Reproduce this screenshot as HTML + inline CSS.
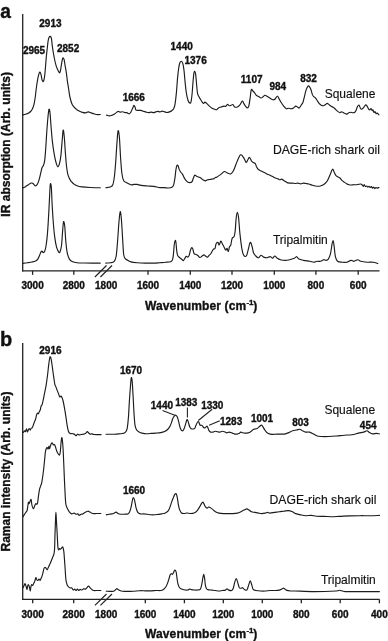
<!DOCTYPE html>
<html><head><meta charset="utf-8"><title>IR and Raman spectra</title>
<style>
html,body{margin:0;padding:0;background:#fff;}
body{width:388px;height:641px;overflow:hidden;}
svg{display:block;}
text{font-family:"Liberation Sans",Arial,sans-serif;fill:#111;}
.pk,.tk,.xl,.yl,.pl{stroke:#111;stroke-width:0.35;}
.nm{stroke:#111;stroke-width:0.15;}
.pl{font-size:20px;font-weight:bold;}
.tk{font-size:10px;font-weight:bold;text-anchor:middle;}
.pk{font-size:10px;font-weight:bold;text-anchor:middle;}
.nm{font-size:12px;}
.xl{font-size:12px;font-weight:bold;}
.yl{font-size:12px;font-weight:bold;text-anchor:middle;}
.ax{stroke:#222;stroke-width:1.3;fill:none;}
.brk{stroke:#222;stroke-width:1.2;}
.ld{stroke:#222;stroke-width:1.1;}
.cv{stroke:#1c1c1c;stroke-width:1.15;fill:none;stroke-linejoin:round;stroke-linecap:round;}
</style></head><body>
<svg width="388" height="641" viewBox="0 0 388 641">
<rect width="388" height="641" fill="#fff"/>
<text x="0.2" y="17.5" class="pl" style="font-size:20.6px" textLength="10.7" lengthAdjust="spacingAndGlyphs">a</text>
<text x="0" y="346.0" class="pl">b</text>
<line x1="22.7" y1="13.9" x2="22.7" y2="271.45" class="ax"/>
<line x1="22.1" y1="270.85" x2="379.5" y2="270.85" class="ax"/>
<line x1="32.6" y1="270.85" x2="32.6" y2="274.85" class="ax"/>
<line x1="73.8" y1="270.85" x2="73.8" y2="274.85" class="ax"/>
<line x1="148" y1="270.85" x2="148" y2="274.85" class="ax"/>
<line x1="190.3" y1="270.85" x2="190.3" y2="274.85" class="ax"/>
<line x1="232.0" y1="270.85" x2="232.0" y2="274.85" class="ax"/>
<line x1="274.3" y1="270.85" x2="274.3" y2="274.85" class="ax"/>
<line x1="315.9" y1="270.85" x2="315.9" y2="274.85" class="ax"/>
<line x1="358.2" y1="270.85" x2="358.2" y2="274.85" class="ax"/>
<text x="32.6" y="289.45" class="tk">3000</text>
<text x="73.8" y="289.45" class="tk">2800</text>
<text x="148" y="289.45" class="tk">1600</text>
<text x="190.3" y="289.45" class="tk">1400</text>
<text x="232.0" y="289.45" class="tk">1200</text>
<text x="274.3" y="289.45" class="tk">1000</text>
<text x="315.9" y="289.45" class="tk">800</text>
<text x="358.2" y="289.45" class="tk">600</text>
<text x="106.2" y="289.45" class="tk">1800</text>
<line x1="94.9" y1="276.95" x2="106.5" y2="265.55" class="brk"/>
<line x1="100.4" y1="276.95" x2="112.0" y2="265.55" class="brk"/>
<text x="145.0" y="309.85" class="xl"><tspan textLength="101.2" lengthAdjust="spacing">Wavenumber (cm</tspan><tspan x="246.4" dy="-4.9" font-size="8">-1</tspan><tspan x="253.3" dy="4.9">)</tspan></text>
<line x1="22.7" y1="343.1" x2="22.7" y2="599.9" class="ax"/>
<line x1="22.1" y1="599.3" x2="379.4" y2="599.3" class="ax"/>
<line x1="32.7" y1="599.3" x2="32.7" y2="603.3" class="ax"/>
<line x1="73.7" y1="599.3" x2="73.7" y2="603.3" class="ax"/>
<line x1="145.3" y1="599.3" x2="145.3" y2="603.3" class="ax"/>
<line x1="184.4" y1="599.3" x2="184.4" y2="603.3" class="ax"/>
<line x1="223.3" y1="599.3" x2="223.3" y2="603.3" class="ax"/>
<line x1="262.3" y1="599.3" x2="262.3" y2="603.3" class="ax"/>
<line x1="301.3" y1="599.3" x2="301.3" y2="603.3" class="ax"/>
<line x1="340.2" y1="599.3" x2="340.2" y2="603.3" class="ax"/>
<line x1="379.4" y1="599.3" x2="379.4" y2="603.3" class="ax"/>
<text x="32.7" y="617.9" class="tk">3000</text>
<text x="73.7" y="617.9" class="tk">2800</text>
<text x="145.3" y="617.9" class="tk">1600</text>
<text x="184.4" y="617.9" class="tk">1400</text>
<text x="223.3" y="617.9" class="tk">1200</text>
<text x="262.3" y="617.9" class="tk">1000</text>
<text x="301.3" y="617.9" class="tk">800</text>
<text x="340.2" y="617.9" class="tk">600</text>
<text x="379.4" y="617.9" class="tk">400</text>
<text x="106.2" y="617.9" class="tk">1800</text>
<line x1="94.9" y1="605.4" x2="106.5" y2="594.0" class="brk"/>
<line x1="100.4" y1="605.4" x2="112.0" y2="594.0" class="brk"/>
<text x="145.0" y="638.3" class="xl"><tspan textLength="101.2" lengthAdjust="spacing">Wavenumber (cm</tspan><tspan x="246.4" dy="-4.9" font-size="8">-1</tspan><tspan x="253.3" dy="4.9">)</tspan></text>
<text transform="translate(10.1 144.3) rotate(-90)" class="yl">IR absorption (Arb. units)</text>
<text transform="translate(10.1 471.5) rotate(-90)" class="yl">Raman intensity (Arb. units)</text>
<text x="50.4" y="27.4" class="pk">2913</text>
<text x="34" y="53.9" class="pk">2965</text>
<text x="68.1" y="51.5" class="pk">2852</text>
<text x="133.75" y="100.5" class="pk">1666</text>
<text x="181.7" y="50.4" class="pk">1440</text>
<text x="195.6" y="64.2" class="pk">1376</text>
<text x="251.7" y="82.7" class="pk">1107</text>
<text x="277.75" y="90.3" class="pk">984</text>
<text x="308.5" y="81.7" class="pk">832</text>
<text x="50.4" y="354.0" class="pk">2916</text>
<text x="131" y="373.7" class="pk">1670</text>
<text x="161.9" y="409.3" class="pk">1440</text>
<text x="186.25" y="406.2" class="pk">1383</text>
<text x="212.3" y="408.6" class="pk">1330</text>
<text x="231.1" y="425.2" class="pk">1283</text>
<text x="262.0" y="422.3" class="pk">1001</text>
<text x="300.5" y="425.5" class="pk">803</text>
<text x="368.2" y="429.2" class="pk">454</text>
<text x="134" y="493.5" class="pk">1660</text>
<text x="324.7" y="97.7" class="nm" style="font-size:12px">Squalene</text>
<text x="272.9" y="154.1" class="nm" style="font-size:12.2px">DAGE-rich shark oil</text>
<text x="272.9" y="243.5" class="nm" style="font-size:12px">Tripalmitin</text>
<text x="324.4" y="413.6" class="nm" style="font-size:12px">Squalene</text>
<text x="269.5" y="503.8" class="nm" style="font-size:12.2px">DAGE-rich shark oil</text>
<text x="320.9" y="584.0" class="nm" style="font-size:12px">Tripalmitin</text>
<line x1="162.5" y1="410.6" x2="174.8" y2="415.3" class="ld"/>
<line x1="187.4" y1="407.6" x2="187.4" y2="417.4" class="ld"/>
<line x1="212.2" y1="409.2" x2="198.3" y2="420.5" class="ld"/>
<line x1="219.8" y1="420.7" x2="209.1" y2="425.3" class="ld"/>
<path d="M22.6 115 C23.08 114.87 24.55 114.5 25.5 114.2 C26.45 113.9 27.45 113.65 28.3 113.2 C29.15 112.75 29.88 112.3 30.6 111.5 C31.32 110.7 32.03 109.6 32.6 108.4 C33.17 107.2 33.57 106.12 34 104.3 C34.43 102.48 34.83 100.05 35.2 97.5 C35.57 94.95 35.77 92.13 36.2 89 C36.63 85.87 37.3 81.35 37.8 78.7 C38.3 76.05 38.82 74.2 39.2 73.1 C39.58 72 39.78 71.8 40.1 72.1 C40.42 72.4 40.78 73.65 41.1 74.9 C41.42 76.15 41.65 78.5 42 79.6 C42.35 80.7 42.8 81.8 43.2 81.5 C43.6 81.2 44.05 79.83 44.4 77.8 C44.75 75.77 45 72.58 45.3 69.3 C45.6 66.02 45.88 61.53 46.2 58.1 C46.52 54.67 46.88 51.52 47.2 48.7 C47.52 45.88 47.8 43.07 48.1 41.2 C48.4 39.33 48.63 38.3 49 37.5 C49.37 36.7 49.9 36.25 50.3 36.4 C50.7 36.55 51.07 36.82 51.4 38.4 C51.73 39.98 51.98 43.55 52.3 45.9 C52.62 48.25 52.9 50.15 53.3 52.5 C53.7 54.85 54.23 57.82 54.7 60 C55.17 62.18 55.63 64.05 56.1 65.6 C56.57 67.15 57.03 68.22 57.5 69.3 C57.97 70.38 58.52 71.55 58.9 72.1 C59.28 72.65 59.5 73.07 59.8 72.6 C60.1 72.13 60.38 70.93 60.7 69.3 C61.02 67.67 61.38 64.58 61.7 62.8 C62.02 61.02 62.33 59.42 62.6 58.6 C62.87 57.78 63.03 57.67 63.3 57.9 C63.57 58.13 63.9 58.72 64.2 60 C64.5 61.28 64.73 63.42 65.1 65.6 C65.47 67.78 66.03 70.6 66.4 73.1 C66.77 75.6 66.95 78.12 67.3 80.6 C67.65 83.08 68.07 85.27 68.5 88 C68.93 90.73 69.28 94.25 69.9 97 C70.52 99.75 71.2 102.52 72.2 104.5 C73.2 106.48 74.75 107.8 75.9 108.9 C77.05 110 78.02 110.52 79.1 111.1 C80.18 111.68 81.3 112.1 82.4 112.4 C83.5 112.7 84.72 113 85.7 112.9 C86.68 112.8 87.38 111.8 88.3 111.8 C89.22 111.8 90.17 112.53 91.2 112.9 C92.23 113.27 93.4 113.72 94.5 114 C95.6 114.28 96.83 114.52 97.8 114.6 C98.77 114.68 99.88 114.52 100.3 114.5" class="cv"/>
<path d="M106.4 115.1 C106.87 115.23 108.32 115.85 109.2 115.9 C110.08 115.95 110.87 115.67 111.7 115.4 C112.53 115.13 113.35 114.85 114.2 114.3 C115.05 113.75 116.1 112.58 116.8 112.1 C117.5 111.62 117.85 111.4 118.4 111.4 C118.95 111.4 119.4 112.03 120.1 112.1 C120.8 112.17 121.77 111.72 122.6 111.8 C123.43 111.88 124.4 112.47 125.1 112.6 C125.8 112.73 126.1 112.4 126.8 112.6 C127.5 112.8 128.6 113.93 129.3 113.8 C130 113.67 130.43 112.75 131 111.8 C131.57 110.85 132.2 109.17 132.7 108.1 C133.2 107.03 133.58 105.48 134 105.4 C134.42 105.32 134.87 106.82 135.2 107.6 C135.53 108.38 135.45 109.63 136 110.1 C136.55 110.57 137.67 110.35 138.5 110.4 C139.33 110.45 140.15 110.23 141 110.4 C141.85 110.57 142.75 111.12 143.6 111.4 C144.45 111.68 145.27 111.9 146.1 112.1 C146.93 112.3 147.77 112.6 148.6 112.6 C149.43 112.6 150.27 112.1 151.1 112.1 C151.93 112.1 152.77 112.65 153.6 112.6 C154.43 112.55 155.4 112 156.1 111.8 C156.8 111.6 157.1 111.4 157.8 111.4 C158.5 111.4 159.55 111.85 160.3 111.8 C161.05 111.75 161.57 111.08 162.3 111.1 C163.03 111.12 163.92 111.67 164.7 111.9 C165.48 112.13 166.22 112.5 167 112.5 C167.78 112.5 168.62 112.2 169.4 111.9 C170.18 111.6 170.97 111.28 171.7 110.7 C172.43 110.12 173.25 109.47 173.8 108.4 C174.35 107.33 174.57 106.93 175 104.3 C175.43 101.67 175.98 96.88 176.4 92.6 C176.82 88.32 177.12 82.7 177.5 78.6 C177.88 74.5 178.3 70.63 178.7 68 C179.1 65.37 179.47 63.92 179.9 62.8 C180.33 61.68 180.82 61.2 181.3 61.3 C181.78 61.4 182.35 61.88 182.8 63.4 C183.25 64.92 183.62 67.28 184 70.4 C184.38 73.52 184.72 78.4 185.1 82.1 C185.48 85.8 185.82 89.58 186.3 92.6 C186.78 95.62 187.42 98.45 188 100.2 C188.58 101.95 189.3 102.82 189.8 103.1 C190.3 103.38 190.62 103.45 191 101.9 C191.38 100.35 191.75 97.3 192.1 93.8 C192.45 90.3 192.8 84.32 193.1 80.9 C193.4 77.48 193.63 74.9 193.9 73.3 C194.17 71.7 194.42 71.2 194.7 71.3 C194.98 71.4 195.3 71.92 195.6 73.9 C195.9 75.88 196.2 80.08 196.5 83.2 C196.8 86.32 197.05 90.45 197.4 92.6 C197.75 94.75 198.1 95 198.6 96.1 C199.1 97.2 199.8 98.2 200.4 99.2 C201 100.2 201.65 101.4 202.2 102.1 C202.75 102.8 203.25 103.4 203.7 103.4 C204.15 103.4 204.4 102.1 204.9 102.1 C205.4 102.1 205.95 102.73 206.7 103.4 C207.45 104.07 208.5 105.3 209.4 106.1 C210.3 106.9 211.2 107.67 212.1 108.2 C213 108.73 214.05 109.05 214.8 109.3 C215.55 109.55 215.98 109.93 216.6 109.7 C217.22 109.47 217.73 108.35 218.5 107.9 C219.27 107.45 220.3 107.3 221.2 107 C222.1 106.7 223.15 106.2 223.9 106.1 C224.65 106 225.1 106.7 225.7 106.4 C226.3 106.1 226.9 104.42 227.5 104.3 C228.1 104.18 228.7 105.55 229.3 105.7 C229.9 105.85 230.5 105.38 231.1 105.2 C231.7 105.02 232.3 104.3 232.9 104.6 C233.5 104.9 233.95 106.6 234.7 107 C235.45 107.4 236.57 107.3 237.4 107 C238.23 106.7 238.88 106.2 239.7 105.2 C240.52 104.2 241.63 101.3 242.3 101 C242.97 100.7 243.17 102.55 243.7 103.4 C244.23 104.25 244.9 105.35 245.5 106.1 C246.1 106.85 246.75 107.9 247.3 107.9 C247.85 107.9 248.35 107.6 248.8 106.1 C249.25 104.6 249.58 101.62 250 98.9 C250.42 96.18 250.85 91.17 251.3 89.8 C251.75 88.43 252.17 90.23 252.7 90.7 C253.23 91.17 253.9 91.83 254.5 92.6 C255.1 93.37 255.55 94.62 256.3 95.3 C257.05 95.98 258.25 96.25 259 96.7 C259.75 97.15 260.18 97.93 260.8 98 C261.42 98.07 262 97.55 262.7 97.1 C263.4 96.65 264.17 95.37 265 95.3 C265.83 95.23 266.8 96.17 267.7 96.7 C268.6 97.23 269.5 97.98 270.4 98.5 C271.3 99.02 272.35 99.68 273.1 99.8 C273.85 99.92 274.2 99.8 274.9 99.2 C275.6 98.6 276.6 96.25 277.3 96.2 C278 96.15 278.45 97.85 279.1 98.9 C279.75 99.95 280.4 101.25 281.2 102.5 C282 103.75 283.05 105.35 283.9 106.4 C284.75 107.45 285.53 108.5 286.3 108.8 C287.07 109.1 287.68 108.2 288.5 108.2 C289.32 108.2 290.37 108.85 291.2 108.8 C292.03 108.75 292.75 108.35 293.5 107.9 C294.25 107.45 295.03 106.25 295.7 106.1 C296.37 105.95 296.9 106.7 297.5 107 C298.1 107.3 298.7 108.2 299.3 107.9 C299.9 107.6 300.5 106.1 301.1 105.2 C301.7 104.3 302.37 103.85 302.9 102.5 C303.43 101.15 303.85 98.92 304.3 97.1 C304.75 95.28 305.17 93.12 305.6 91.6 C306.03 90.08 306.45 88.95 306.9 88 C307.35 87.05 307.83 86.05 308.3 85.9 C308.77 85.75 309.25 86.45 309.7 87.1 C310.15 87.75 310.57 88.58 311 89.8 C311.43 91.02 311.85 93.25 312.3 94.4 C312.75 95.55 313.17 96.1 313.7 96.7 C314.23 97.3 314.9 97.33 315.5 98 C316.1 98.67 316.7 99.8 317.3 100.7 C317.9 101.6 318.43 102.65 319.1 103.4 C319.77 104.15 320.55 104.82 321.3 105.2 C322.05 105.58 322.92 105.8 323.6 105.7 C324.28 105.6 324.8 104.98 325.4 104.6 C326 104.22 326.6 103.4 327.2 103.4 C327.8 103.4 328.4 104.15 329 104.6 C329.6 105.05 330.18 105.7 330.8 106.1 C331.42 106.5 332.08 106.65 332.7 107 C333.32 107.35 333.77 107.55 334.5 108.2 C335.23 108.85 336.2 110.15 337.1 110.9 C338 111.65 339.2 112.57 339.9 112.7 C340.6 112.83 340.7 111.7 341.3 111.7 C341.9 111.7 342.78 112.37 343.5 112.7 C344.22 113.03 345.02 113.47 345.6 113.7 C346.18 113.93 346.53 114.2 347 114.1 C347.47 114 347.8 113.4 348.4 113.1 C349 112.8 349.88 112.37 350.6 112.3 C351.32 112.23 352 112.7 352.7 112.7 C353.4 112.7 354.22 112.77 354.8 112.3 C355.38 111.83 355.73 110.9 356.2 109.9 C356.67 108.9 357.12 107.08 357.6 106.3 C358.08 105.52 358.62 104.83 359.1 105.2 C359.58 105.57 360.03 107.83 360.5 108.5 C360.97 109.17 361.43 109.28 361.9 109.2 C362.37 109.12 362.9 108.43 363.3 108 C363.7 107.57 363.9 107.12 364.3 106.6 C364.7 106.08 365.23 104.98 365.7 104.9 C366.17 104.82 366.67 105.5 367.1 106.1 C367.53 106.7 367.87 107.87 368.3 108.5 C368.73 109.13 369.23 109.9 369.7 109.9 C370.17 109.9 370.7 108.38 371.1 108.5 C371.5 108.62 371.78 110.37 372.1 110.6 C372.42 110.83 372.7 109.62 373 109.9 C373.3 110.18 373.55 112 373.9 112.3 C374.25 112.6 374.73 111.47 375.1 111.7 C375.47 111.93 375.75 113.47 376.1 113.7 C376.45 113.93 376.73 112.92 377.2 113.1 C377.67 113.28 378.62 114.52 378.9 114.8" class="cv"/>
<path d="M22.6 188 C22.92 187.87 23.88 187.52 24.5 187.2 C25.12 186.88 25.63 186.52 26.3 186.1 C26.97 185.68 27.78 185.17 28.5 184.7 C29.22 184.23 30.02 183.58 30.6 183.3 C31.18 183.02 31.52 182.88 32 183 C32.48 183.12 32.97 183.53 33.5 184 C34.03 184.47 34.6 185.68 35.2 185.8 C35.8 185.92 36.48 185.6 37.1 184.7 C37.72 183.8 38.3 182.32 38.9 180.4 C39.5 178.48 40.17 175.35 40.7 173.2 C41.23 171.05 41.63 168.82 42.1 167.5 C42.57 166.18 43.07 166.5 43.5 165.3 C43.93 164.1 44.33 163.05 44.7 160.3 C45.07 157.55 45.37 153.35 45.7 148.8 C46.03 144.25 46.35 138.02 46.7 133 C47.05 127.98 47.42 122.65 47.8 118.7 C48.18 114.75 48.63 110.27 49 109.3 C49.37 108.33 49.67 110.15 50 112.9 C50.33 115.65 50.6 121.02 51 125.8 C51.4 130.58 51.85 136.8 52.4 141.6 C52.95 146.4 53.67 151 54.3 154.6 C54.93 158.2 55.6 161.17 56.2 163.2 C56.8 165.23 57.33 166.8 57.9 166.8 C58.47 166.8 59.08 165.23 59.6 163.2 C60.12 161.17 60.57 158.43 61 154.6 C61.43 150.77 61.83 144.28 62.2 140.2 C62.57 136.12 62.85 130.58 63.2 130.1 C63.55 129.62 63.93 133.47 64.3 137.3 C64.67 141.13 65.03 148.32 65.4 153.1 C65.77 157.88 66.08 162.42 66.5 166 C66.92 169.58 67.3 172.32 67.9 174.6 C68.5 176.88 69.38 178.38 70.1 179.7 C70.82 181.02 71.48 181.72 72.2 182.5 C72.92 183.28 73.6 183.85 74.4 184.4 C75.2 184.95 75.73 185.38 77 185.8 C78.27 186.22 79.83 186.62 82 186.9 C84.17 187.18 86.95 187.35 90 187.5 C93.05 187.65 98.58 187.75 100.3 187.8" class="cv"/>
<path d="M105.8 187.7 C106.55 187.58 109.13 187.48 110.3 187 C111.47 186.52 112.12 186.55 112.8 184.8 C113.48 183.05 113.92 180.28 114.4 176.5 C114.88 172.72 115.28 167.58 115.7 162.1 C116.12 156.62 116.5 148.82 116.9 143.6 C117.3 138.38 117.68 131.83 118.1 130.8 C118.52 129.77 118.98 132.87 119.4 137.4 C119.82 141.93 120.18 151.98 120.6 158 C121.02 164.02 121.38 169.72 121.9 173.5 C122.42 177.28 122.88 179.17 123.7 180.7 C124.52 182.23 125.6 182.02 126.8 182.7 C128 183.38 129.7 184.52 130.9 184.8 C132.1 185.08 132.97 184.47 134 184.4 C135.03 184.33 135.9 184.23 137.1 184.4 C138.3 184.57 139.48 185.13 141.2 185.4 C142.92 185.67 145.33 185.83 147.4 186 C149.47 186.17 151.5 186.13 153.6 186.4 C155.7 186.67 158.22 187.4 160 187.6 C161.78 187.8 162.88 187.53 164.3 187.6 C165.72 187.67 167.33 188 168.5 188 C169.67 188 170.47 188.03 171.3 187.6 C172.13 187.17 172.9 186.95 173.5 185.4 C174.1 183.85 174.5 180.9 174.9 178.3 C175.3 175.7 175.55 171.97 175.9 169.8 C176.25 167.63 176.63 165.95 177 165.3 C177.37 164.65 177.75 165.27 178.1 165.9 C178.45 166.53 178.68 168.08 179.1 169.1 C179.52 170.12 180.05 171.17 180.6 172 C181.15 172.83 181.82 173.17 182.4 174.1 C182.98 175.03 183.58 176.65 184.1 177.6 C184.62 178.55 184.92 179.08 185.5 179.8 C186.08 180.52 186.88 181.43 187.6 181.9 C188.32 182.37 189.08 182.6 189.8 182.6 C190.52 182.6 191.32 182.62 191.9 181.9 C192.48 181.18 192.83 179.42 193.3 178.3 C193.77 177.18 194.15 175.55 194.7 175.2 C195.25 174.85 195.88 175.87 196.6 176.2 C197.32 176.53 198.25 176.85 199 177.2 C199.75 177.55 200.4 177.83 201.1 178.3 C201.8 178.77 202.48 179.57 203.2 180 C203.92 180.43 204.68 180.93 205.4 180.9 C206.12 180.87 206.8 180.03 207.5 179.8 C208.2 179.57 208.9 179.62 209.6 179.5 C210.3 179.38 210.98 179.25 211.7 179.1 C212.42 178.95 213.27 178.88 213.9 178.6 C214.53 178.32 215.03 177.63 215.5 177.4 C215.97 177.17 215.87 177.67 216.7 177.2 C217.53 176.73 219.22 175.55 220.5 174.6 C221.78 173.65 223.32 171.8 224.4 171.5 C225.48 171.2 225.93 172.4 227 172.8 C228.07 173.2 229.73 174.23 230.8 173.9 C231.87 173.57 232.53 172.4 233.4 170.8 C234.27 169.2 235.13 166.45 236 164.3 C236.87 162.15 237.83 159.48 238.6 157.9 C239.37 156.32 239.97 155.15 240.6 154.8 C241.23 154.45 241.75 155.07 242.4 155.8 C243.05 156.53 243.85 158.08 244.5 159.2 C245.15 160.32 245.7 162.5 246.3 162.5 C246.9 162.5 247.55 160.05 248.1 159.2 C248.65 158.35 249.03 157.1 249.6 157.4 C250.17 157.7 250.88 160.15 251.5 161 C252.12 161.85 252.67 162.07 253.3 162.5 C253.93 162.93 254.75 162.87 255.3 163.6 C255.85 164.33 256.08 165.92 256.6 166.9 C257.12 167.88 257.53 168.77 258.4 169.5 C259.27 170.23 260.38 170.57 261.8 171.3 C263.22 172.03 265.53 173.23 266.9 173.9 C268.27 174.57 269.03 174.85 270 175.3 C270.97 175.75 271.8 176.15 272.7 176.6 C273.6 177.05 274.5 177.62 275.4 178 C276.3 178.38 277.35 178.6 278.1 178.9 C278.85 179.2 279.3 179.77 279.9 179.8 C280.5 179.83 281 178.95 281.7 179.1 C282.4 179.25 283.2 180.12 284.1 180.7 C285 181.28 286.15 182.2 287.1 182.6 C288.05 183 288.88 183.02 289.8 183.1 C290.72 183.18 291.68 183.03 292.6 183.1 C293.52 183.17 294.4 183.5 295.3 183.5 C296.2 183.5 297.1 183.05 298 183.1 C298.9 183.15 299.8 183.8 300.7 183.8 C301.6 183.8 302.5 183.15 303.4 183.1 C304.3 183.05 305.2 183.35 306.1 183.5 C307 183.65 307.9 183.77 308.8 184 C309.7 184.23 310.6 184.6 311.5 184.9 C312.4 185.2 313.3 185.58 314.2 185.8 C315.1 186.02 316 186.13 316.9 186.2 C317.8 186.27 318.7 186.35 319.6 186.2 C320.5 186.05 321.4 185.75 322.3 185.3 C323.2 184.85 324.15 184.27 325 183.5 C325.85 182.73 326.65 181.92 327.4 180.7 C328.15 179.48 328.85 177.7 329.5 176.2 C330.15 174.7 330.75 172.9 331.3 171.7 C331.85 170.5 332.35 169 332.8 169 C333.25 169 333.5 170.65 334 171.7 C334.5 172.75 335.1 174.4 335.8 175.3 C336.5 176.2 337.5 176.65 338.2 177.1 C338.9 177.55 339.38 177.45 340 178 C340.62 178.55 341.2 179.72 341.9 180.4 C342.6 181.08 343.42 181.55 344.2 182.1 C344.98 182.65 345.82 183.27 346.6 183.7 C347.38 184.13 348.13 184.48 348.9 184.7 C349.67 184.92 350.43 185 351.2 185 C351.97 185 352.73 184.75 353.5 184.7 C354.27 184.65 355.02 184.75 355.8 184.7 C356.58 184.65 357.37 184.52 358.2 184.4 C359.03 184.28 360.17 183.95 360.8 184 C361.43 184.05 361.58 184.32 362 184.7 C362.42 185.08 362.92 186.3 363.3 186.3 C363.68 186.3 363.95 184.65 364.3 184.7 C364.65 184.75 365 186.38 365.4 186.6 C365.8 186.82 366.28 185.92 366.7 186 C367.12 186.08 367.52 187.05 367.9 187.1 C368.28 187.15 368.63 186.23 369 186.3 C369.37 186.37 369.72 187.45 370.1 187.5 C370.48 187.55 370.9 186.5 371.3 186.6 C371.7 186.7 372.12 188.02 372.5 188.1 C372.88 188.18 373.23 187.02 373.6 187.1 C373.97 187.18 374.32 188.53 374.7 188.6 C375.08 188.67 375.48 187.58 375.9 187.5 C376.32 187.42 376.68 188.1 377.2 188.1 C377.72 188.1 378.7 187.6 379 187.5" class="cv"/>
<path d="M22.6 263.4 C23.45 263.28 26.13 262.93 27.7 262.7 C29.27 262.47 30.68 262.28 32 262 C33.32 261.72 34.63 261.48 35.6 261 C36.57 260.52 37.15 260.02 37.8 259.1 C38.45 258.18 38.97 256.7 39.5 255.5 C40.03 254.3 40.57 252.62 41 251.9 C41.43 251.18 41.73 251.08 42.1 251.2 C42.47 251.32 42.77 252.6 43.2 252.6 C43.63 252.6 44.22 252.38 44.7 251.2 C45.18 250.02 45.67 248.13 46.1 245.5 C46.53 242.87 46.93 239.47 47.3 235.4 C47.67 231.33 47.97 226.6 48.3 221.1 C48.63 215.6 49 208.15 49.3 202.4 C49.6 196.65 49.87 189.72 50.1 186.6 C50.33 183.48 50.48 183.47 50.7 183.7 C50.92 183.93 51.17 184.65 51.4 188 C51.63 191.35 51.78 198.05 52.1 203.8 C52.42 209.55 52.87 216.98 53.3 222.5 C53.73 228.02 54.17 232.83 54.7 236.9 C55.23 240.97 55.85 244.4 56.5 246.9 C57.15 249.4 58.02 251.07 58.6 251.9 C59.18 252.73 59.52 252.97 60 251.9 C60.48 250.83 61.08 248.72 61.5 245.5 C61.92 242.28 62.2 236.32 62.5 232.6 C62.8 228.88 63.07 225 63.3 223.2 C63.53 221.4 63.65 221.2 63.9 221.8 C64.15 222.4 64.48 223.57 64.8 226.8 C65.12 230.03 65.4 236.9 65.8 241.2 C66.2 245.5 66.6 249.62 67.2 252.6 C67.8 255.58 68.57 257.62 69.4 259.1 C70.23 260.58 70.93 260.9 72.2 261.5 C73.47 262.1 74.87 262.45 77 262.7 C79.13 262.95 81.12 262.93 85 263 C88.88 263.07 97.75 263.08 100.3 263.1" class="cv"/>
<path d="M105.8 263.1 C106.55 263.03 108.93 262.93 110.3 262.7 C111.67 262.47 113.03 262.73 114 261.7 C114.97 260.67 115.52 259.77 116.1 256.5 C116.68 253.23 117.02 247.93 117.5 242.1 C117.98 236.27 118.55 226.58 119 221.5 C119.45 216.42 119.8 211.95 120.2 211.6 C120.6 211.25 120.98 214.65 121.4 219.4 C121.82 224.15 122.32 234.25 122.7 240.1 C123.08 245.95 123.28 251.42 123.7 254.5 C124.12 257.58 124.52 257.63 125.2 258.6 C125.88 259.57 126.85 259.75 127.8 260.3 C128.75 260.85 129.35 261.5 130.9 261.9 C132.45 262.3 134.68 262.5 137.1 262.7 C139.52 262.9 142.65 263.03 145.4 263.1 C148.15 263.17 151.17 263.17 153.6 263.1 C156.03 263.03 157.98 262.83 160 262.7 C162.02 262.57 163.93 262.47 165.7 262.3 C167.47 262.13 169.47 262.1 170.6 261.7 C171.73 261.3 172.02 261.27 172.5 259.9 C172.98 258.53 173.22 255.98 173.5 253.5 C173.78 251.02 173.92 247.17 174.2 245 C174.48 242.83 174.9 240.85 175.2 240.5 C175.5 240.15 175.75 241.2 176 242.9 C176.25 244.6 176.42 248.58 176.7 250.7 C176.98 252.82 177.18 254.42 177.7 255.6 C178.22 256.78 179.08 257.15 179.8 257.8 C180.52 258.45 181.4 259.03 182 259.5 C182.6 259.97 182.93 260.77 183.4 260.6 C183.87 260.43 184.33 259.22 184.8 258.5 C185.27 257.78 185.73 256.53 186.2 256.3 C186.67 256.07 187.12 257.22 187.6 257.1 C188.08 256.98 188.62 256.78 189.1 255.6 C189.58 254.42 190.03 251.33 190.5 250 C190.97 248.67 191.5 247.72 191.9 247.6 C192.3 247.48 192.55 248.32 192.9 249.3 C193.25 250.28 193.58 252.68 194 253.5 C194.42 254.32 194.88 253.97 195.4 254.2 C195.92 254.43 196.57 254.55 197.1 254.9 C197.63 255.25 198.12 255.87 198.6 256.3 C199.08 256.73 199.47 257.5 200 257.5 C200.53 257.5 201.15 256.73 201.8 256.3 C202.45 255.87 203.27 254.93 203.9 254.9 C204.53 254.87 205 255.73 205.6 256.1 C206.2 256.47 206.88 257.25 207.5 257.1 C208.12 256.95 208.72 255.8 209.3 255.2 C209.88 254.6 210.48 254.25 211 253.5 C211.52 252.75 211.97 251.45 212.4 250.7 C212.83 249.95 213.17 249.35 213.6 249 C214.03 248.65 214.58 249.48 215 248.6 C215.42 247.72 215.62 244.73 216.1 243.7 C216.58 242.67 217.38 242.18 217.9 242.4 C218.42 242.62 218.72 245.22 219.2 245 C219.68 244.78 220.28 241.32 220.8 241.1 C221.32 240.88 221.78 242.75 222.3 243.7 C222.82 244.65 223.33 245.73 223.9 246.8 C224.47 247.87 225.18 249.85 225.7 250.1 C226.22 250.35 226.57 248.08 227 248.3 C227.43 248.52 227.88 251.65 228.3 251.4 C228.72 251.15 229.08 247.87 229.5 246.8 C229.92 245.73 230.37 246.38 230.8 245 C231.23 243.62 231.53 239.93 232.1 238.5 C232.67 237.07 233.68 237.68 234.2 236.4 C234.72 235.12 234.87 233.88 235.2 230.8 C235.53 227.72 235.85 221 236.2 217.9 C236.55 214.8 236.9 212.2 237.3 212.2 C237.7 212.2 238.17 214.37 238.6 217.9 C239.03 221.43 239.35 228.25 239.9 233.4 C240.45 238.55 241.27 245.15 241.9 248.8 C242.53 252.45 242.97 254.1 243.7 255.3 C244.43 256.5 245.57 256.87 246.3 256 C247.03 255.13 247.45 252.37 248.1 250.1 C248.75 247.83 249.55 243.05 250.2 242.4 C250.85 241.75 251.45 244.48 252 246.2 C252.55 247.92 252.87 251.07 253.5 252.7 C254.13 254.33 254.98 255.15 255.8 256 C256.62 256.85 257.53 257.92 258.4 257.8 C259.27 257.68 260.13 255.42 261 255.3 C261.87 255.18 262.62 256.68 263.6 257.1 C264.58 257.52 266.17 257.77 266.9 257.8 C267.63 257.83 267.4 257.48 268 257.3 C268.6 257.12 269.73 256.55 270.5 256.7 C271.27 256.85 271.88 258.32 272.6 258.2 C273.32 258.08 274.02 256 274.8 256 C275.58 256 276.37 257.58 277.3 258.2 C278.23 258.82 279.12 259.33 280.4 259.7 C281.68 260.07 283.45 260.4 285 260.4 C286.55 260.4 288.15 260.07 289.7 259.7 C291.25 259.33 293.12 258.7 294.3 258.2 C295.48 257.7 296.03 256.55 296.8 256.7 C297.57 256.85 297.77 258.48 298.9 259.1 C300.03 259.72 301.78 260.03 303.6 260.4 C305.42 260.77 308.1 261 309.8 261.3 C311.5 261.6 312.62 262.2 313.8 262.2 C314.98 262.2 315.77 261.45 316.9 261.3 C318.03 261.15 319.47 261.57 320.6 261.3 C321.73 261.03 322.78 259.85 323.7 259.7 C324.62 259.55 325.33 260.5 326.1 260.4 C326.87 260.3 327.57 260.23 328.3 259.1 C329.03 257.97 329.88 256.07 330.5 253.6 C331.12 251.13 331.58 246.47 332 244.3 C332.42 242.13 332.68 240.6 333 240.6 C333.32 240.6 333.5 241.62 333.9 244.3 C334.3 246.98 334.78 253.87 335.4 256.7 C336.02 259.53 336.47 260.38 337.6 261.3 C338.73 262.22 340.65 262.05 342.2 262.2 C343.75 262.35 345.45 262.5 346.9 262.2 C348.35 261.9 349.72 260.55 350.9 260.4 C352.08 260.25 352.87 261.42 354 261.3 C355.13 261.18 356.57 259.7 357.7 259.7 C358.83 259.7 359.25 260.88 360.8 261.3 C362.35 261.72 364.93 262.05 367 262.2 C369.07 262.35 371.4 261.98 373.2 262.2 C375 262.42 377.03 263.28 377.8 263.5" class="cv"/>
<path d="M22.6 432.4 C22.73 432.37 23.07 432.47 23.4 432.2 C23.73 431.93 24.25 430.92 24.6 430.8 C24.95 430.68 25.18 431.85 25.5 431.5 C25.82 431.15 26.18 428.63 26.5 428.7 C26.82 428.77 27.08 431.73 27.4 431.9 C27.72 432.07 28.07 430.23 28.4 429.7 C28.73 429.17 29.1 428.63 29.4 428.7 C29.7 428.77 29.9 430.18 30.2 430.1 C30.5 430.02 30.87 428.6 31.2 428.2 C31.53 427.8 31.85 428.22 32.2 427.7 C32.55 427.18 32.92 426.12 33.3 425.1 C33.68 424.08 34.13 422.53 34.5 421.6 C34.87 420.67 35.17 420.57 35.5 419.5 C35.83 418.43 36.2 416.27 36.5 415.2 C36.8 414.13 37 413.33 37.3 413.1 C37.6 412.87 37.97 414.03 38.3 413.8 C38.63 413.57 38.95 412.42 39.3 411.7 C39.65 410.98 40.1 410.45 40.4 409.5 C40.7 408.55 40.82 406.82 41.1 406 C41.38 405.18 41.73 405.67 42.1 404.6 C42.47 403.53 42.87 401.62 43.3 399.6 C43.73 397.58 44.23 394.87 44.7 392.5 C45.17 390.13 45.63 388.23 46.1 385.4 C46.57 382.57 47.08 378.8 47.5 375.5 C47.92 372.2 48.25 368.43 48.6 365.6 C48.95 362.77 49.32 359.97 49.6 358.5 C49.88 357.03 50.02 356.57 50.3 356.8 C50.58 357.03 50.93 357.97 51.3 359.9 C51.67 361.83 52.07 365.33 52.5 368.4 C52.93 371.47 53.5 375.58 53.9 378.3 C54.3 381.02 54.55 383.23 54.9 384.7 C55.25 386.17 55.62 386.15 56 387.1 C56.38 388.05 56.77 389.27 57.2 390.4 C57.63 391.53 58.2 392.83 58.6 393.9 C59 394.97 59.2 396.43 59.6 396.8 C60 397.17 60.6 395.98 61 396.1 C61.4 396.22 61.65 396.68 62 397.5 C62.35 398.32 62.68 399.23 63.1 401 C63.52 402.77 64.03 405.5 64.5 408.1 C64.97 410.7 65.47 413.77 65.9 416.6 C66.33 419.43 66.67 422.62 67.1 425.1 C67.53 427.58 67.98 430.08 68.5 431.5 C69.02 432.92 69.62 433.27 70.2 433.6 C70.78 433.93 71.42 433.45 72 433.5 C72.58 433.55 73.18 433.67 73.7 433.9 C74.22 434.13 74.67 434.62 75.1 434.9 C75.53 435.18 75.92 435.72 76.3 435.6 C76.68 435.48 76.93 434.32 77.4 434.2 C77.87 434.08 78.47 434.85 79.1 434.9 C79.73 434.95 80.5 434.62 81.2 434.5 C81.9 434.38 82.58 434.37 83.3 434.2 C84.02 434.03 84.83 433.93 85.5 433.5 C86.17 433.07 86.77 431.68 87.3 431.6 C87.83 431.52 88.18 432.57 88.7 433 C89.22 433.43 89.88 434.05 90.4 434.2 C90.92 434.35 91.2 433.85 91.8 433.9 C92.4 433.95 93.05 434.38 94 434.5 C94.95 434.62 96.32 434.58 97.5 434.6 C98.68 434.62 100.5 434.6 101.1 434.6" class="cv"/>
<path d="M106 434.2 C106.72 434.2 108.88 434.2 110.3 434.2 C111.72 434.2 113.08 434.25 114.5 434.2 C115.92 434.15 117.5 434.02 118.8 433.9 C120.1 433.78 121.38 433.63 122.3 433.5 C123.22 433.37 123.63 433.5 124.3 433.1 C124.97 432.7 125.78 432.08 126.3 431.1 C126.82 430.12 127.03 429.65 127.4 427.2 C127.77 424.75 128.17 420.78 128.5 416.4 C128.83 412.02 129.07 406.05 129.4 400.9 C129.73 395.75 130.18 389.37 130.5 385.5 C130.82 381.63 131.02 378.35 131.3 377.7 C131.58 377.05 131.9 378.5 132.2 381.6 C132.5 384.7 132.78 390.77 133.1 396.3 C133.42 401.83 133.77 409.9 134.1 414.8 C134.43 419.7 134.67 423.17 135.1 425.7 C135.53 428.23 136.05 428.97 136.7 430 C137.35 431.03 138.1 431.38 139 431.9 C139.9 432.42 140.82 432.8 142.1 433.1 C143.38 433.4 145.15 433.65 146.7 433.7 C148.25 433.75 149.85 433.5 151.4 433.4 C152.95 433.3 154.45 433.23 156 433.1 C157.55 432.97 159.28 432.87 160.7 432.6 C162.12 432.33 163.35 432.02 164.5 431.5 C165.65 430.98 166.7 430.35 167.6 429.5 C168.5 428.65 169.25 427.55 169.9 426.4 C170.55 425.25 171.03 423.88 171.5 422.6 C171.97 421.32 172.23 419.78 172.7 418.7 C173.17 417.62 173.78 416.68 174.3 416.1 C174.82 415.52 175.28 415.02 175.8 415.2 C176.32 415.38 176.88 415.97 177.4 417.2 C177.92 418.43 178.4 420.72 178.9 422.6 C179.4 424.48 179.82 427.12 180.4 428.5 C180.98 429.88 181.8 430.82 182.4 430.9 C183 430.98 183.48 430.08 184 429 C184.52 427.92 185.07 425.82 185.5 424.4 C185.93 422.98 186.28 421.28 186.6 420.5 C186.92 419.72 187.12 419.43 187.4 419.7 C187.68 419.97 187.92 420.93 188.3 422.1 C188.68 423.27 189.22 425.6 189.7 426.7 C190.18 427.8 190.62 428.32 191.2 428.7 C191.78 429.08 192.6 429.08 193.2 429 C193.8 428.92 194.28 428.97 194.8 428.2 C195.32 427.43 195.78 425.5 196.3 424.4 C196.82 423.3 197.45 421.92 197.9 421.6 C198.35 421.28 198.65 421.9 199 422.5 C199.35 423.1 199.62 424.75 200 425.2 C200.38 425.65 200.88 425.08 201.3 425.2 C201.72 425.32 202.12 425.52 202.5 425.9 C202.88 426.28 203.15 427.18 203.6 427.5 C204.05 427.82 204.68 428.02 205.2 427.8 C205.72 427.58 206.27 426.25 206.7 426.2 C207.13 426.15 207.42 426.77 207.8 427.5 C208.18 428.23 208.53 429.83 209 430.6 C209.47 431.37 209.95 431.85 210.6 432.1 C211.25 432.35 212.13 432.23 212.9 432.1 C213.67 431.97 214.43 431.35 215.2 431.3 C215.97 431.25 216.73 431.67 217.5 431.8 C218.27 431.93 219.02 432.18 219.8 432.1 C220.58 432.02 221.42 431.35 222.2 431.3 C222.98 431.25 223.73 431.53 224.5 431.8 C225.27 432.07 226.03 432.85 226.8 432.9 C227.57 432.95 228.18 432.07 229.1 432.1 C230.02 432.13 231.38 432.77 232.3 433.1 C233.22 433.43 233.82 433.93 234.6 434.1 C235.38 434.27 236.27 434.18 237 434.1 C237.73 434.02 238.37 433.93 239 433.6 C239.63 433.27 240.18 432.23 240.8 432.1 C241.42 431.97 242.05 432.63 242.7 432.8 C243.35 432.97 243.98 433.05 244.7 433.1 C245.42 433.15 246.23 433.2 247 433.1 C247.77 433 248.58 432.8 249.3 432.5 C250.02 432.2 250.65 431.82 251.3 431.3 C251.95 430.78 252.58 429.78 253.2 429.4 C253.82 429.02 254.35 429.15 255 429 C255.65 428.85 256.37 428.9 257.1 428.5 C257.83 428.1 258.68 427.17 259.4 426.6 C260.12 426.03 260.83 425.1 261.4 425.1 C261.97 425.1 262.23 425.78 262.8 426.6 C263.37 427.42 264.08 428.97 264.8 430 C265.52 431.03 266.2 432.12 267.1 432.8 C268 433.48 269.17 433.83 270.2 434.1 C271.23 434.37 272.27 434.4 273.3 434.4 C274.33 434.4 275.37 434.15 276.4 434.1 C277.43 434.05 278.47 434.1 279.5 434.1 C280.53 434.1 281.63 434.13 282.6 434.1 C283.57 434.07 284.25 434.15 285.3 433.9 C286.35 433.65 287.67 433.12 288.9 432.6 C290.13 432.08 291.42 431.23 292.7 430.8 C293.98 430.37 295.4 430.25 296.6 430 C297.8 429.75 298.92 429.17 299.9 429.3 C300.88 429.43 301.55 430.33 302.5 430.8 C303.45 431.27 304.43 431.88 305.6 432.1 C306.77 432.32 308.2 431.8 309.5 432.1 C310.8 432.4 312.12 433.25 313.4 433.9 C314.68 434.55 315.92 435.57 317.2 436 C318.48 436.43 319.17 436.42 321.1 436.5 C323.03 436.58 326.23 436.58 328.8 436.5 C331.37 436.42 333.92 436.22 336.5 436 C339.08 435.78 341.72 435.42 344.3 435.2 C346.88 434.98 349.63 435.05 352 434.7 C354.37 434.35 356.57 433.53 358.5 433.1 C360.43 432.67 362.18 432.48 363.6 432.1 C365.02 431.72 366.02 430.72 367 430.8 C367.98 430.88 368.57 432.08 369.5 432.6 C370.43 433.12 371.43 433.77 372.6 433.9 C373.77 434.03 375.38 433.4 376.5 433.4 C377.62 433.4 378.83 433.82 379.3 433.9" class="cv"/>
<path d="M22.6 517.2 C22.68 517.13 22.85 517.18 23.1 516.8 C23.35 516.42 23.7 515.57 24.1 514.9 C24.5 514.23 25.02 513.5 25.5 512.8 C25.98 512.1 26.63 511.65 27 510.7 C27.37 509.75 27.47 508.52 27.7 507.1 C27.93 505.68 28.17 502.78 28.4 502.2 C28.63 501.62 28.87 503.6 29.1 503.6 C29.33 503.6 29.57 502.8 29.8 502.2 C30.03 501.6 30.27 500.4 30.5 500 C30.73 499.6 30.97 498.97 31.2 499.8 C31.43 500.63 31.58 503.55 31.9 505 C32.22 506.45 32.75 508.03 33.1 508.5 C33.45 508.97 33.68 508.38 34 507.8 C34.32 507.22 34.68 505.7 35 505 C35.32 504.3 35.58 503.72 35.9 503.6 C36.22 503.48 36.62 504.42 36.9 504.3 C37.18 504.18 37.3 504.55 37.6 502.9 C37.9 501.25 38.35 496.77 38.7 494.4 C39.05 492.03 39.37 490.12 39.7 488.7 C40.03 487.28 40.35 486.97 40.7 485.9 C41.05 484.83 41.42 484.2 41.8 482.3 C42.18 480.4 42.63 477.22 43 474.5 C43.37 471.78 43.72 468.6 44 466 C44.28 463.4 44.47 461.27 44.7 458.9 C44.93 456.53 45.12 453.57 45.4 451.8 C45.68 450.03 46.1 449 46.4 448.3 C46.7 447.6 46.9 447.48 47.2 447.6 C47.5 447.72 47.92 449.23 48.2 449 C48.48 448.77 48.67 446.25 48.9 446.2 C49.13 446.15 49.37 448.7 49.6 448.7 C49.83 448.7 49.98 447.1 50.3 446.2 C50.62 445.3 51.13 443.82 51.5 443.3 C51.87 442.78 52.22 442.85 52.5 443.1 C52.78 443.35 52.9 444.57 53.2 444.8 C53.5 445.03 53.95 444.27 54.3 444.5 C54.65 444.73 54.97 445.33 55.3 446.2 C55.63 447.07 55.95 448.63 56.3 449.7 C56.65 450.77 57.02 451.82 57.4 452.6 C57.78 453.38 58.23 454 58.6 454.4 C58.97 454.8 59.32 455.43 59.6 455 C59.88 454.57 60.07 453.75 60.3 451.8 C60.53 449.85 60.77 445.65 61 443.3 C61.23 440.95 61.47 438.17 61.7 437.7 C61.93 437.23 62.17 438.62 62.4 440.5 C62.63 442.38 62.87 444.98 63.1 449 C63.33 453.02 63.57 459.17 63.8 464.6 C64.03 470.03 64.27 476.4 64.5 481.6 C64.73 486.8 64.97 492.02 65.2 495.8 C65.43 499.58 65.53 502.18 65.9 504.3 C66.27 506.42 66.8 507.2 67.4 508.5 C68 509.8 68.8 511.2 69.5 512.1 C70.2 513 70.95 513.7 71.6 513.9 C72.25 514.1 72.97 513.45 73.4 513.3 C73.83 513.15 73.77 512.85 74.2 513 C74.63 513.15 75.4 514.05 76 514.2 C76.6 514.35 77.27 513.72 77.8 513.9 C78.33 514.08 78.67 515.25 79.2 515.3 C79.73 515.35 80.4 514.43 81 514.2 C81.6 513.97 82.13 514.2 82.8 513.9 C83.47 513.6 84.15 512.85 85 512.4 C85.85 511.95 87.07 511.25 87.9 511.2 C88.73 511.15 89.2 511.72 90 512.1 C90.8 512.48 91.63 513.27 92.7 513.5 C93.77 513.73 95.05 513.5 96.4 513.5 C97.75 513.5 100.07 513.5 100.8 513.5" class="cv"/>
<path d="M106.3 514.8 C106.75 514.7 108.05 514.35 109 514.2 C109.95 514.05 111.1 514.1 112 513.9 C112.9 513.7 113.7 513.3 114.4 513 C115.1 512.7 115.6 512.02 116.2 512.1 C116.8 512.18 117.25 513.15 118 513.5 C118.75 513.85 119.65 514.08 120.7 514.2 C121.75 514.32 123.1 514.25 124.3 514.2 C125.5 514.15 127 514.32 127.9 513.9 C128.8 513.48 129.15 512.92 129.7 511.7 C130.25 510.48 130.75 508.5 131.2 506.6 C131.65 504.7 132.05 501.8 132.4 500.3 C132.75 498.8 132.93 497.6 133.3 497.6 C133.67 497.6 134.15 498.63 134.6 500.3 C135.05 501.97 135.47 505.58 136 507.6 C136.53 509.62 137.1 511.35 137.8 512.4 C138.5 513.45 139.23 513.65 140.2 513.9 C141.17 514.15 142.43 513.85 143.6 513.9 C144.77 513.95 146 514.05 147.2 514.2 C148.4 514.35 149.6 514.7 150.8 514.8 C152 514.9 153.2 514.87 154.4 514.8 C155.6 514.73 156.8 514.55 158 514.4 C159.2 514.25 160.38 514.13 161.6 513.9 C162.82 513.67 164.23 513.45 165.3 513 C166.37 512.55 167.25 512.1 168 511.2 C168.75 510.3 169.2 509.12 169.8 507.6 C170.4 506.08 171 503.77 171.6 502.1 C172.2 500.43 172.87 498.88 173.4 497.6 C173.93 496.32 174.35 495.05 174.8 494.4 C175.25 493.75 175.68 493.17 176.1 493.7 C176.52 494.23 176.92 495.75 177.3 497.6 C177.68 499.45 178 502.75 178.4 504.8 C178.8 506.85 179.18 508.53 179.7 509.9 C180.22 511.27 180.75 512.4 181.5 513 C182.25 513.6 183.3 513.5 184.2 513.5 C185.1 513.5 185.85 513 186.9 513 C187.95 513 189.3 513.5 190.5 513.5 C191.7 513.5 193.05 513.38 194.1 513 C195.15 512.62 195.95 512.1 196.8 511.2 C197.65 510.3 198.45 508.82 199.2 507.6 C199.95 506.38 200.7 504.82 201.3 503.9 C201.9 502.98 202.35 502.1 202.8 502.1 C203.25 502.1 203.58 503.15 204 503.9 C204.42 504.65 204.78 505.9 205.3 506.6 C205.82 507.3 206.55 508.03 207.1 508.1 C207.65 508.17 208.12 507.08 208.6 507 C209.08 506.92 209.43 507.28 210 507.6 C210.57 507.92 211.1 508.22 212 508.9 C212.9 509.58 214.25 511 215.4 511.7 C216.55 512.4 217.53 512.78 218.9 513.1 C220.27 513.42 222.05 513.52 223.6 513.6 C225.15 513.68 226.67 513.6 228.2 513.6 C229.73 513.6 231.25 513.68 232.8 513.6 C234.35 513.52 236.13 513.42 237.5 513.1 C238.87 512.78 239.92 512.2 241 511.7 C242.08 511.2 243.03 510.57 244 510.1 C244.97 509.63 245.95 508.9 246.8 508.9 C247.65 508.9 248.33 509.63 249.1 510.1 C249.87 510.57 250.43 511.32 251.4 511.7 C252.37 512.08 253.73 512.17 254.9 512.4 C256.07 512.63 257.25 512.9 258.4 513.1 C259.55 513.3 260.65 513.6 261.8 513.6 C262.95 513.6 264.33 513.3 265.3 513.1 C266.27 512.9 266.82 512.4 267.6 512.4 C268.38 512.4 268.83 513.1 270 513.1 C271.17 513.1 273.07 512.63 274.6 512.4 C276.13 512.17 277.65 511.9 279.2 511.7 C280.75 511.5 282.38 511.38 283.9 511.2 C285.42 511.02 286.97 510.55 288.3 510.6 C289.63 510.65 290.67 511 291.9 511.5 C293.13 512 294.2 513.03 295.7 513.6 C297.2 514.17 299.18 514.55 300.9 514.9 C302.62 515.25 304.28 515.62 306 515.7 C307.72 515.78 309.47 515.32 311.2 515.4 C312.93 515.48 314.25 516.03 316.4 516.2 C318.55 516.37 321.53 516.32 324.1 516.4 C326.67 516.48 329.23 516.7 331.8 516.7 C334.37 516.7 336.48 516.53 339.5 516.4 C342.52 516.27 346.45 516.02 349.9 515.9 C353.35 515.78 356.77 515.73 360.2 515.7 C363.63 515.67 367.3 515.75 370.5 515.7 C373.7 515.65 377.92 515.45 379.4 515.4" class="cv"/>
<path d="M22.6 588 C22.68 587.92 22.85 587.93 23.1 587.5 C23.35 587.07 23.77 586.03 24.1 585.4 C24.43 584.77 24.78 583.58 25.1 583.7 C25.42 583.82 25.68 585.12 26 586.1 C26.32 587.08 26.72 589.6 27 589.6 C27.28 589.6 27.47 586.92 27.7 586.1 C27.93 585.28 28.12 584.58 28.4 584.7 C28.68 584.82 29.1 585.78 29.4 586.8 C29.7 587.82 29.97 590.68 30.2 590.8 C30.43 590.92 30.57 588.52 30.8 587.5 C31.03 586.48 31.3 585.05 31.6 584.7 C31.9 584.35 32.27 585.57 32.6 585.4 C32.93 585.23 33.23 584.42 33.6 583.7 C33.97 582.98 34.42 582.12 34.8 581.1 C35.18 580.08 35.55 577.78 35.9 577.6 C36.25 577.42 36.57 579.53 36.9 580 C37.23 580.47 37.55 580.57 37.9 580.4 C38.25 580.23 38.63 579 39 579 C39.37 579 39.75 580.52 40.1 580.4 C40.45 580.28 40.82 578.88 41.1 578.3 C41.38 577.72 41.48 577.85 41.8 576.9 C42.12 575.95 42.63 574.02 43 572.6 C43.37 571.18 43.67 569.3 44 568.4 C44.33 567.5 44.65 567.2 45 567.2 C45.35 567.2 45.73 567.97 46.1 568.4 C46.47 568.83 46.85 569.92 47.2 569.8 C47.55 569.68 47.8 568.53 48.2 567.7 C48.6 566.87 49.12 565.87 49.6 564.8 C50.08 563.73 50.62 562.48 51.1 561.3 C51.58 560.12 52.03 558.88 52.5 557.7 C52.97 556.52 53.55 555.73 53.9 554.2 C54.25 552.67 54.42 551.82 54.6 548.5 C54.78 545.18 54.85 539.02 55 534.3 C55.15 529.58 55.35 523.85 55.5 520.2 C55.65 516.55 55.75 512.4 55.9 512.4 C56.05 512.4 56.18 516.55 56.4 520.2 C56.62 523.85 56.95 529.82 57.2 534.3 C57.45 538.78 57.67 544.5 57.9 547.1 C58.13 549.7 58.32 549.67 58.6 549.9 C58.88 550.13 59.27 548.62 59.6 548.5 C59.93 548.38 60.25 549.32 60.6 549.2 C60.95 549.08 61.33 548.15 61.7 547.8 C62.07 547.45 62.45 546.5 62.8 547.1 C63.15 547.7 63.52 549.27 63.8 551.4 C64.08 553.53 64.27 556.83 64.5 559.9 C64.73 562.97 64.97 566.5 65.2 569.8 C65.43 573.1 65.58 577.22 65.9 579.7 C66.22 582.18 66.67 583.52 67.1 584.7 C67.53 585.88 67.98 586.25 68.5 586.8 C69.02 587.35 69.68 587.83 70.2 588 C70.72 588.17 71.07 587.47 71.6 587.8 C72.13 588.13 72.88 589.78 73.4 590 C73.92 590.22 74.27 589.02 74.7 589.1 C75.13 589.18 75.55 590.5 76 590.5 C76.45 590.5 76.92 589.1 77.4 589.1 C77.88 589.1 78.45 590.45 78.9 590.5 C79.35 590.55 79.6 589.48 80.1 589.4 C80.6 589.32 81.3 590.12 81.9 590 C82.5 589.88 83.1 588.85 83.7 588.7 C84.3 588.55 84.9 589.33 85.5 589.1 C86.1 588.87 86.78 587.82 87.3 587.3 C87.82 586.78 88.15 585.95 88.6 586 C89.05 586.05 89.47 587.03 90 587.6 C90.53 588.17 91.2 588.92 91.8 589.4 C92.4 589.88 92.68 590.32 93.6 590.5 C94.52 590.68 96.1 590.5 97.3 590.5 C98.5 590.5 100.22 590.5 100.8 590.5" class="cv"/>
<path d="M106.3 591.2 C106.9 591.23 108.7 591.4 109.9 591.4 C111.1 591.4 112.6 591.43 113.5 591.2 C114.4 590.97 114.77 590.42 115.3 590 C115.83 589.58 116.25 588.8 116.7 588.7 C117.15 588.6 117.48 589.1 118 589.4 C118.52 589.7 119.05 590.2 119.8 590.5 C120.55 590.8 121.15 591.05 122.5 591.2 C123.85 591.35 126.1 591.4 127.9 591.4 C129.7 591.4 131.28 591.32 133.3 591.2 C135.32 591.08 137.98 590.75 140 590.7 C142.02 590.65 143.6 590.87 145.4 590.9 C147.2 590.93 149 590.97 150.8 590.9 C152.6 590.83 154.55 590.57 156.2 590.5 C157.85 590.43 159.48 590.68 160.7 590.5 C161.92 590.32 162.68 589.93 163.5 589.4 C164.32 588.87 164.95 588.27 165.6 587.3 C166.25 586.33 166.85 584.97 167.4 583.6 C167.95 582.23 168.45 580.53 168.9 579.1 C169.35 577.67 169.72 575.9 170.1 575 C170.48 574.1 170.8 573.82 171.2 573.7 C171.6 573.58 172.1 574.5 172.5 574.3 C172.9 574.1 173.22 573.2 173.6 572.5 C173.98 571.8 174.38 570.2 174.8 570.1 C175.22 570 175.73 570.55 176.1 571.9 C176.47 573.25 176.7 576.25 177 578.2 C177.3 580.15 177.52 582.08 177.9 583.6 C178.28 585.12 178.7 586.38 179.3 587.3 C179.9 588.22 180.53 588.65 181.5 589.1 C182.47 589.55 184.05 589.85 185.1 590 C186.15 590.15 187.05 590.15 187.8 590 C188.55 589.85 189 589.17 189.6 589.1 C190.2 589.03 190.65 589.45 191.4 589.6 C192.15 589.75 193.05 589.93 194.1 590 C195.15 590.07 196.65 590.15 197.7 590 C198.75 589.85 199.73 590 200.4 589.1 C201.07 588.2 201.3 586.42 201.7 584.6 C202.1 582.78 202.47 579.92 202.8 578.2 C203.13 576.48 203.4 574.3 203.7 574.3 C204 574.3 204.33 576.48 204.6 578.2 C204.87 579.92 205 582.87 205.3 584.6 C205.6 586.33 205.98 587.77 206.4 588.6 C206.82 589.43 206.87 589.35 207.8 589.6 C208.73 589.85 210.73 589.95 212 590.1 C213.27 590.25 214.25 590.35 215.4 590.5 C216.55 590.65 217.73 591 218.9 591 C220.07 591 221.32 590.65 222.4 590.5 C223.48 590.35 224.63 590.37 225.4 590.1 C226.17 589.83 226.45 588.9 227 588.9 C227.55 588.9 227.92 589.83 228.7 590.1 C229.48 590.37 230.93 590.82 231.7 590.5 C232.47 590.18 232.8 589.55 233.3 588.2 C233.8 586.85 234.2 584.02 234.7 582.4 C235.2 580.78 235.77 578.38 236.3 578.5 C236.83 578.62 237.4 581.57 237.9 583.1 C238.4 584.63 238.78 586.85 239.3 587.7 C239.82 588.55 240.45 588.2 241 588.2 C241.55 588.2 242.03 587.5 242.6 587.7 C243.17 587.9 243.7 589 244.4 589.4 C245.1 589.8 246.1 590.77 246.8 590.1 C247.5 589.43 248.03 586.95 248.6 585.4 C249.17 583.85 249.65 580.8 250.2 580.8 C250.75 580.8 251.4 583.97 251.9 585.4 C252.4 586.83 252.52 588.55 253.2 589.4 C253.88 590.25 254.75 590.23 256 590.5 C257.25 590.77 259.15 590.92 260.7 591 C262.25 591.08 263.75 591.08 265.3 591 C266.85 590.92 268.45 590.58 270 590.5 C271.55 590.42 273.07 590.57 274.6 590.5 C276.13 590.43 277.93 590.4 279.2 590.1 C280.47 589.8 281.42 589.02 282.2 588.7 C282.98 588.38 283.23 587.97 283.9 588.2 C284.57 588.43 285.05 589.63 286.2 590.1 C287.35 590.57 289.33 590.85 290.8 591 C292.27 591.15 291.07 590.9 295 591 C298.93 591.1 307.57 591.6 314.4 591.6 C321.23 591.6 331.77 591.22 336 591 C340.23 590.78 338.25 590.2 339.8 590.3 C341.35 590.4 341.8 591.38 345.3 591.6 C348.8 591.82 355.12 591.6 360.8 591.6 C366.48 591.6 376.3 591.6 379.4 591.6" class="cv"/>
</svg>
</body></html>
